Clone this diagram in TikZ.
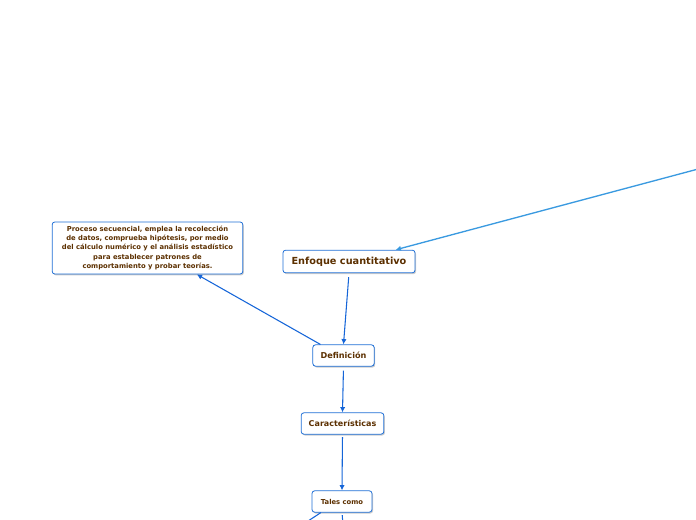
\documentclass[tikz,border=0pt]{standalone}
\usepackage{fontspec}
\setmainfont{DejaVu Sans}
\usetikzlibrary{arrows.meta,positioning,shadows}

\definecolor{boxblue}{HTML}{1F6FD6}
\definecolor{linkblue}{HTML}{1565D8}
\definecolor{toplink}{HTML}{3A9AE0}
\definecolor{textbrown}{HTML}{5C3000}

\begin{document}
\begin{tikzpicture}[
  x=0.75pt, y=-0.75pt,
  box/.style={draw=boxblue,fill=white,rounded corners=2pt,line width=0.6pt,
    align=center,inner sep=0pt,text=textbrown,font=\bfseries,
    drop shadow={shadow xshift=0.8pt,shadow yshift=-1pt,opacity=0.4}},
  arrow/.style={-{Latex[length=4pt,width=4pt]},draw=linkblue,line width=0.8pt}
]
  \useasboundingbox (0,0) rectangle (696,520);

  \node[box,minimum width=99pt,minimum height=17pt,font=\bfseries\fontsize{7.3}{9}\selectfont] (enf) at (349,261.5) {Enfoque cuantitativo};
  \node[box,minimum width=143pt,minimum height=39pt,font=\bfseries\fontsize{5.1}{7.1}\selectfont] (pro) at (147.5,248)
    {Proceso secuencial, emplea la recolección\\de datos, comprueba hipótesis, por medio\\del cálculo numérico y el análisis estadístico\\para establecer patrones de\\comportamiento y probar teorías.};
  \node[box,minimum width=46pt,minimum height=16pt,font=\bfseries\fontsize{6.1}{8}\selectfont] (def) at (343.5,355.5) {Definición};
  \node[box,minimum width=62pt,minimum height=16pt,font=\bfseries\fontsize{6}{8}\selectfont] (car) at (342.5,423.5) {Características};
  \node[box,minimum width=45pt,minimum height=16pt,font=\bfseries\fontsize{5.1}{7}\selectfont] (tal) at (342,501.5) {Tales como};

  % ends outside the page
  \coordinate (src) at (702,168);
  \coordinate (outa) at (302,525);
  \coordinate (outb) at (343,525);

  \draw[arrow,draw=toplink,line width=1pt] (src) -- ([xshift=35pt]enf.north);
  \draw[arrow,shorten <=3pt] (enf.south) -- (def.north);
  \draw[arrow] ([xshift=6pt]def.north west) -- ([xshift=37pt]pro.south);
  \draw[arrow,shorten <=3pt] (def.south) -- (car.north);
  \draw[arrow,shorten <=2pt] (car.south) -- (tal.north);
  \draw[draw=linkblue,line width=0.8pt] ([xshift=7pt]tal.south west) -- (outa);
  \draw[draw=linkblue,line width=0.8pt,shorten <=2pt] (tal.south) -- (outb);
\end{tikzpicture}
\end{document}
